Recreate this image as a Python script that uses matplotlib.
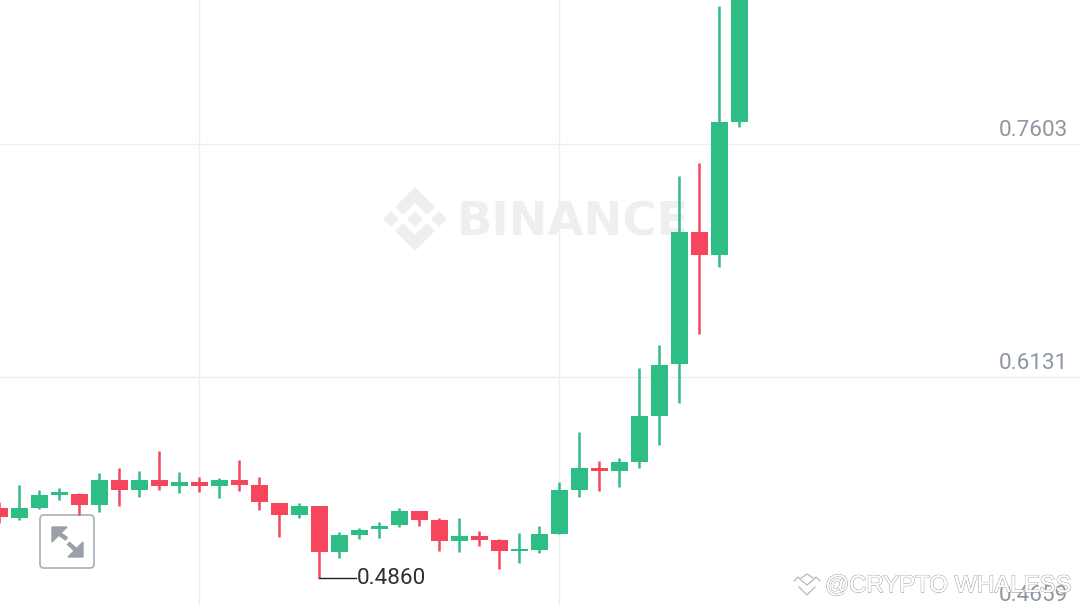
import matplotlib
matplotlib.use("Agg")
import matplotlib.pyplot as plt
import matplotlib.patheffects as pe
from matplotlib.patches import FancyBboxPatch, Polygon

# candles, left to right, the last one runs off the top of the picture
opens = [0.5303, 0.5240, 0.5300, 0.5382, 0.5389, 0.5319, 0.5477, 0.5414, 0.5477, 0.5439,
         0.5465, 0.5439, 0.5477, 0.5446, 0.5332, 0.5256, 0.5313, 0.5022, 0.5130, 0.5167,
         0.5193, 0.5281, 0.5224, 0.5092, 0.5123, 0.5098, 0.5029, 0.5035, 0.5136, 0.5414,
         0.5553, 0.5534, 0.5591, 0.5882, 0.6210, 0.7044, 0.6899, 0.7739]
closes = [0.5243, 0.5300, 0.5382, 0.5401, 0.5319, 0.5477, 0.5414, 0.5477, 0.5439, 0.5465,
          0.5439, 0.5477, 0.5446, 0.5338, 0.5256, 0.5313, 0.5022, 0.5130, 0.5161, 0.5186,
          0.5281, 0.5224, 0.5092, 0.5123, 0.5098, 0.5029, 0.5041, 0.5136, 0.5414, 0.5553,
          0.5534, 0.5591, 0.5882, 0.6204, 0.7044, 0.6899, 0.7739, 0.8700]
highs = [0.5338, 0.5446, 0.5414, 0.5427, 0.5395, 0.5521, 0.5553, 0.5534, 0.5660, 0.5528,
         0.5496, 0.5490, 0.5604, 0.5496, 0.5332, 0.5332, 0.5313, 0.5149, 0.5174, 0.5212,
         0.5300, 0.5281, 0.5237, 0.5237, 0.5155, 0.5104, 0.5142, 0.5186, 0.5465, 0.5780,
         0.5597, 0.5616, 0.6185, 0.6330, 0.7398, 0.7480, 0.8472, 0.8800]
lows = [0.5205, 0.5224, 0.5294, 0.5351, 0.5256, 0.5275, 0.5313, 0.5370, 0.5414, 0.5395,
        0.5401, 0.5363, 0.5408, 0.5288, 0.5117, 0.5237, 0.4860, 0.4984, 0.5104, 0.5111,
        0.5180, 0.5186, 0.5029, 0.5022, 0.5060, 0.4915, 0.4953, 0.5016, 0.5136, 0.5370,
        0.5408, 0.5433, 0.5553, 0.5698, 0.5964, 0.6400, 0.6823, 0.7707]
price_ticks = [0.7603, 0.6131, 0.4659]
time_grid = [10, 28]

GREEN = "#2EBD85"
RED = "#F6465D"
GRID = "#EDEEF0"
LABEL = "#8E96A1"
MARK = "#EEF0F0"

plt.rcParams["font.family"] = ["Roboto", "DejaVu Sans"]
fig = plt.figure(figsize=(10.8, 6.06), dpi=100)

# overlay in pixels for the logo and the button, no data in it
deco = fig.add_axes([0, 0, 1, 1], zorder=1)
deco.set_xlim(0, 1080)
deco.set_ylim(606, 0)
deco.axis("off")

# chart axes fill the whole picture
ax = fig.add_axes([0, 0, 1, 1], zorder=2)
ax.patch.set_alpha(0)
ax.set_xlim(0.05, 54.05)
ax.set_ylim(0.46811, 0.85096)
ax.axis("off")

for val in price_ticks:
    ax.axhline(val, color=GRID, lw=1, zorder=1)
    ax.annotate(f"{val:.4f}", xy=(1, val), xycoords=ax.get_yaxis_transform(),
                xytext=(-12, 3), textcoords="offset pixels", ha="right", va="bottom",
                fontsize=16.2, color=LABEL, annotation_clip=False, zorder=5)
for pos in time_grid:
    ax.axvline(pos, color=GRID, lw=1, zorder=1)

# candles
for i in range(len(opens)):
    col = GREEN if closes[i] >= opens[i] else RED
    ax.vlines(i, lows[i], highs[i], color=col, lw=1.8, zorder=3)
    ax.bar(i + 0.02, abs(closes[i] - opens[i]), bottom=min(opens[i], closes[i]), width=0.875,
           color=col, zorder=4)

# marker on the lowest low
low_i = lows.index(min(lows))
ax.plot([low_i, low_i + 1.85], [lows[low_i], lows[low_i]], color="#1E2329", lw=1, zorder=5)
ax.annotate(f"{lows[low_i]:.4f}", xy=(low_i + 1.9, lows[low_i]), xytext=(0, -1),
            textcoords="offset pixels", fontsize=16.2, color="#2B3139",
            va="center", ha="left", zorder=5)

# binance watermark
cx, cy = 415, 219
deco.add_patch(Polygon([(cx, cy - 7), (cx + 7, cy), (cx, cy + 7), (cx - 7, cy)], color=MARK))
for dx in (-24, 24):
    deco.add_patch(Polygon([(cx + dx, cy - 7), (cx + dx + 7, cy), (cx + dx, cy + 7), (cx + dx - 7, cy)], color=MARK))
for s in (-1, 1):
    deco.add_patch(Polygon([(cx, cy + s * 31), (cx + 19, cy + s * 12), (cx + 12, cy + s * 5), (cx, cy + s * 17),
                            (cx - 12, cy + s * 5), (cx - 19, cy + s * 12)], color=MARK))
deco.text(457, 236, "BINANCE", fontsize=33.5, fontweight="bold", family="DejaVu Sans", color=MARK,
          ha="left", va="baseline")

# expand button
deco.add_patch(FancyBboxPatch((44, 519), 46, 45, boxstyle="round,pad=4,rounding_size=4",
                              fc="white", ec="#A9AFB7", lw=1.2))
deco.add_patch(Polygon([(52, 527), (67, 527), (52, 542)], color="#9AA0AA"))
deco.add_patch(Polygon([(83, 557), (68, 557), (83, 542)], color="#9AA0AA"))
deco.plot([58, 67], [533, 539], color="#9AA0AA", lw=3.2, solid_capstyle="butt")
deco.plot([68, 77], [543, 551], color="#9AA0AA", lw=3.2, solid_capstyle="butt")

# square feed watermark, outlined text on top of everything
top = fig.add_axes([0, 0, 1, 1], zorder=3)
top.set_xlim(0, 1080)
top.set_ylim(606, 0)
top.axis("off")
top.patch.set_alpha(0)
top.text(825, 592, "@CRYPTO WHALESS", fontsize=17.2, color="white", ha="left", va="baseline",
         family="Liberation Sans",
         path_effects=[pe.withStroke(linewidth=0.9, foreground="#9A9EA3"), pe.Normal()])
top.plot([801, 807, 813], [578, 574, 578], color="#B5B8BC", lw=0.9)
top.plot([794, 798, 802, 807, 812, 816, 820], [581, 577, 581, 585, 581, 577, 581], color="#B5B8BC", lw=0.9)
top.plot([799, 807, 815], [587, 595, 587], color="#B5B8BC", lw=0.9)

fig.savefig("out.png", dpi=100)
